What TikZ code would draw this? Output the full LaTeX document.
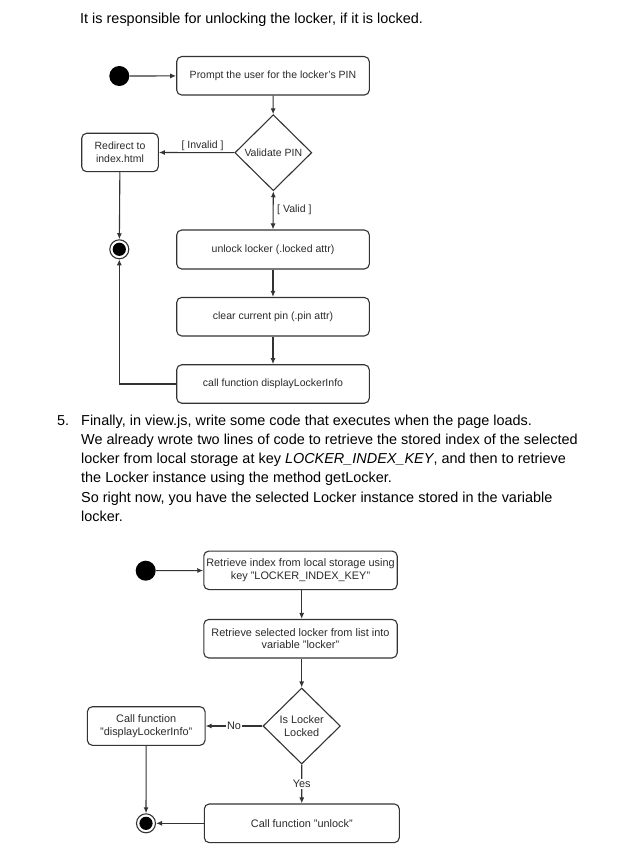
\documentclass[tikz,border=0pt]{standalone}
\usepackage{fontspec}
\setmainfont{Liberation Sans}
\usetikzlibrary{shapes.geometric,arrows.meta,calc}
\definecolor{ln}{HTML}{333333}
\definecolor{tx}{HTML}{2A2A2A}
\begin{document}
\begin{tikzpicture}[x=1pt,y=-1pt,
  para/.style={anchor=base west, inner sep=0pt, font=\fontsize{14.44}{19.2}\selectfont, text=black},
  box/.style={draw=ln, line width=1.1pt, rounded corners=5pt, minimum width=192.6pt, minimum height=38.5pt, inner sep=2pt, align=center, text=tx, font=\fontsize{10.5}{12.6}\selectfont},
  boxb/.style={box, font=\fontsize{10.9}{12.6}\selectfont},
  dec/.style={diamond, draw=ln, line width=1.1pt, minimum width=77pt, minimum height=76pt, inner sep=0pt, align=center, text=tx, font=\fontsize{10.5}{12.6}\selectfont},
  decb/.style={dec, font=\fontsize{10.9}{12.6}\selectfont},
  startdot/.style={circle, fill=black, minimum size=20pt, inner sep=0pt},
  enddot/.style={circle, draw=ln, line width=1.1pt, fill=white, minimum size=19pt, inner sep=0pt,
     path picture={\fill[black] (path picture bounding box.center) circle (6.6pt);}},
  arr/.style={draw=ln, line width=1.1pt, -{Latex[length=6pt,width=5pt]}},
  darr/.style={draw=ln, line width=1.1pt, {Latex[length=6pt,width=5pt]}-{Latex[length=6pt,width=5pt]}},
  lbl/.style={inner sep=1.5pt, text=tx, font=\fontsize{10.5}{12.6}\selectfont},
  lblb/.style={lbl, fill=white, font=\fontsize{10.9}{12.6}\selectfont}
]
\useasboundingbox (0,0) rectangle (624,861);

% top sentence
\node[para] (t0) at (80,24) {It is responsible for unlocking the locker, if it is locked.};

% ---------- first diagram ----------
\node[startdot] (s1) at (119.3,76) {};
\node[box] (prompt) at (273,75.8) {Prompt the user for the locker's PIN};
\node[dec] (d1) at (273.3,152.7) {Validate PIN};
\node[box, minimum width=76.6pt, minimum height=38.4pt] (redir) at (120,152.5) {Redirect to\\index.html};
\node[enddot] (e1) at (119.3,249.3) {};
\node[box, minimum height=39pt] (unlock) at (273,249.5) {unlock locker (.locked attr)};
\node[box] (clear) at (273,316.7) {clear current pin (.pin attr)};
\node[box] (call) at (273,384) {call function displayLockerInfo};

\draw[arr] (s1) -- (prompt);
\draw[arr] (prompt) -- (d1);
\draw[arr] (d1.west) -- node[lbl, above, pos=0.42] (linv) {[ Invalid ]} (redir.east);
\draw[arr] (redir) -- (e1);
\draw[darr] (d1.south) -- node[lbl, right, pos=0.48, xshift=2pt] (lval) {[ Valid ]} (unlock.north);
\draw[arr] (unlock) -- (clear);
\draw[arr] (clear) -- (call);
\draw[arr] (call.west) -| (e1.south);

% ---------- paragraph ----------
\node[para] (n5) at (57,425.3) {5.};
\node[para] (p1) at (81,425.3) {Finally, in view.js, write some code that executes when the page loads.};
\node[para] (p2) at (81,444.5) {We already wrote two lines of code to retrieve the stored index of the selected};
\node[para] (p3) at (81,463.7) {locker from local storage at key \textit{LOCKER\_INDEX\_KEY}, and then to retrieve};
\node[para] (p4) at (81,482.9) {the Locker instance using the method getLocker.};
\node[para] (p5) at (81,502.1) {So right now, you have the selected Locker instance stored in the variable};
\node[para] (p6) at (81,521.3) {locker.};

% ---------- second diagram ----------
\node[startdot] (s2) at (145.7,570.7) {};
\node[boxb, minimum width=193.4pt] (r1) at (300.5,570.3) {Retrieve index from local storage using\\key "LOCKER\_INDEX\_KEY"};
\node[boxb, minimum width=193.4pt] (r2) at (300.5,638.7) {Retrieve selected locker from list into\\variable "locker"};
\node[decb, minimum width=77.4pt] (d2) at (301.7,726) {Is Locker\\Locked};
\node[boxb, minimum width=117.7pt, minimum height=38.6pt] (disp) at (146.2,726) {Call function\\"displayLockerInfo"};
\node[boxb, minimum width=195pt, minimum height=38.7pt] (uc) at (301.8,823.3) {Call function "unlock"};
\node[enddot] (e2) at (146,823.3) {};

\draw[arr] (s2) -- (r1);
\draw[arr] (r1.south -| d2.north) -- (r2.north -| d2.north);
\draw[arr] (r2.south -| d2.north) -- (d2.north);
\draw[arr] (d2.west) -- node[lblb, pos=0.5] (lno) {No} (disp.east);
\draw[arr] (d2.south) -- node[lblb, pos=0.5] (lyes) {Yes} (uc.north);
\draw[arr] (disp) -- (e2);
\draw[arr] (uc.west) -- (e2.east);
\end{tikzpicture}
\end{document}
